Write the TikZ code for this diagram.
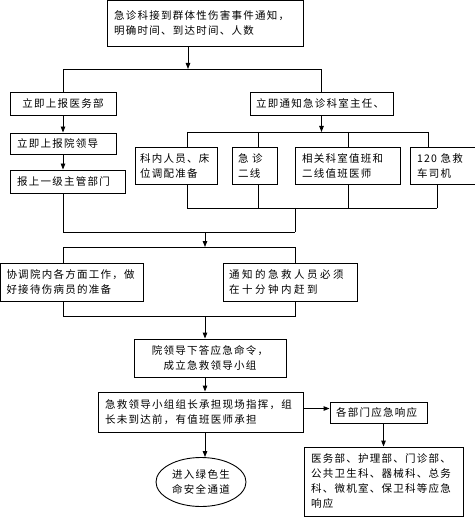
\documentclass[tikz,border=0pt]{standalone}
\usepackage{fontspec}
\setmainfont{Noto Sans CJK SC}[LetterSpace=12]
\usetikzlibrary{arrows.meta,shapes.geometric}
\begin{document}
\begin{tikzpicture}[x=1pt,y=-1pt,
  ln/.style={line width=0.9pt},
  arr/.style={ln,-{Triangle[length=6pt,width=4.5pt]}},
  box/.style={draw,ln,rectangle,inner xsep=7pt,inner ysep=1pt,align=left,
    font=\fontsize{10.5}{15}\selectfont},
  ell/.style={draw,ln,ellipse,inner sep=0pt,align=center,
    font=\fontsize{10.5}{15}\selectfont}]
\useasboundingbox (0,0) rectangle (474,518);

% nodes
\node[box,text width=182pt,minimum height=46pt] (A) at (205,23.5)
  {急诊科接到群体性伤害事件通知，\\明确时间、到达时间、人数};
\node[box,align=center,text width=92pt,minimum height=23pt] (B1) at (63,103.5) {立即上报医务部};
\node[box,inner xsep=6pt,text width=131pt,minimum height=23pt] (B2) at (321.5,103.5) {立即通知急诊科室主任、};
\node[box,text width=92pt,minimum height=21pt] (C1) at (63,143.5) {立即上报院领导};
\node[box,text width=101pt,minimum height=23pt] (C2) at (67.5,181.5) {报上一级主管部门};
\node[box,inner xsep=5pt,text width=72pt,minimum height=37pt] (D1) at (176,165.5) {科内人员、床\\位调配准备};
\node[box,inner xsep=6pt,text width=33pt,minimum height=37pt] (D2) at (254.5,165.5) {急\ 诊\\二线};
\node[box,text width=91pt,minimum height=37pt] (D3) at (347.5,165.5) {相关科室值班和\\二线值班医师};
\node[box,text width=56pt,minimum height=37pt] (D4) at (445,165.5) {120 急救\\车司机};
\node[box,inner xsep=6pt,text width=130.5pt,minimum height=38pt] (E1) at (71.75,282) {协调院内各方面工作，做\\好接待伤病员的准备};
\node[box,inner xsep=6pt,text width=122pt,minimum height=38pt,
  font=\fontsize{10.5}{15}\selectfont\addfontfeature{LetterSpace=24}] (E2) at (290,282) {通知的急救人员必须\\在十分钟内赶到};
\node[box,align=center,text width=138pt,minimum height=38pt] (F) at (210,358) {院领导下答应急命令，\\成立急救领导小组};
\node[box,text width=191pt,minimum height=40pt] (G) at (200.5,412) {急救领导小组组长承担现场指挥，组\\长未到达前，有值班医师承担};
\node[box,inner xsep=6pt,text width=85pt,minimum height=21pt] (H) at (378.5,412.5) {各部门应急响应};
\node[box,inner xsep=7pt,text width=145pt,minimum height=69pt] (I) at (383.5,481.5)
  {医务部、护理部、门诊部、\\公共卫生科、器械科、总务\\科、微机室、保卫科等应急\\响应};
\node[ell,minimum width=90pt,minimum height=49pt] (L) at (201,482) {进入绿色生\\命安全通道};

% junction coordinates
\coordinate (j1) at (188,69);
\coordinate (j2) at (321.5,132);
\coordinate (t1) at (187,132);
\coordinate (t2) at (258,132);
\coordinate (t3) at (348,132);
\coordinate (t4) at (428,132);
\coordinate (b1) at (187,208);
\coordinate (b2) at (258,208);
\coordinate (b3) at (348,208);
\coordinate (b4) at (437,208);
\coordinate (m1) at (295,208);
\coordinate (m2) at (295,232);
\coordinate (m3) at (63,232);
\coordinate (m4) at (205,232);
\coordinate (n1) at (205,247);
\coordinate (n2) at (63,247);
\coordinate (n3) at (295,247);
\coordinate (p1) at (63,316);
\coordinate (p2) at (295,316);
\coordinate (p3) at (205,316);
\coordinate (q1) at (205,377);
\coordinate (q2) at (205,432);

% top split
\draw[arr] (A.south -| j1) -- (j1);
\draw[ln] (B1.north) -- (B1.north |- j1) -- (B2.north |- j1) -- (B2.north);

% left chain
\draw[arr] (B1.south) -- (C1.north);
\draw[arr] (C1.south) -- (C1.south |- C2.north);
\draw[ln] (C1.south |- C2.south) -- (m3) -- (m2);

% right fan
\draw[arr] (B2.south) -- (j2);
\draw[ln] (t1) -- (t4);
\draw[ln] (t1) -- (t1 |- D1.north);
\draw[ln] (t2) -- (t2 |- D2.north);
\draw[ln] (t3) -- (t3 |- D3.north);
\draw[ln] (t4) -- (t4 |- D4.north);
\draw[ln] (b1 |- D1.south) -- (b1);
\draw[ln] (b2 |- D2.south) -- (b2);
\draw[ln] (b3 |- D3.south) -- (b3);
\draw[ln] (b4 |- D4.south) -- (b4);
\draw[ln] (b1) -- (b4);
\draw[ln] (m1) -- (m2);

% merge and split again
\draw[arr] (m4) -- (n1);
\draw[ln] (n2 |- E1.north) -- (n2) -- (n3) -- (n3 |- E2.north);
\draw[ln] (n2 |- E1.south) -- (p1) -- (p2) -- (n3 |- E2.south);
\draw[arr] (p3) -- (p3 |- F.north);
\draw[arr] (q1 |- F.south) -- (q1 |- G.north);
\draw[arr] (q2 |- G.south) -- (q2 |- L.north);

% right branch
\draw[arr] ([yshift=3.5pt]G.east) -- ([yshift=3.5pt]G.east -| H.west);
\draw[arr] (I.north |- H.south) -- (I.north);
\end{tikzpicture}
\end{document}
